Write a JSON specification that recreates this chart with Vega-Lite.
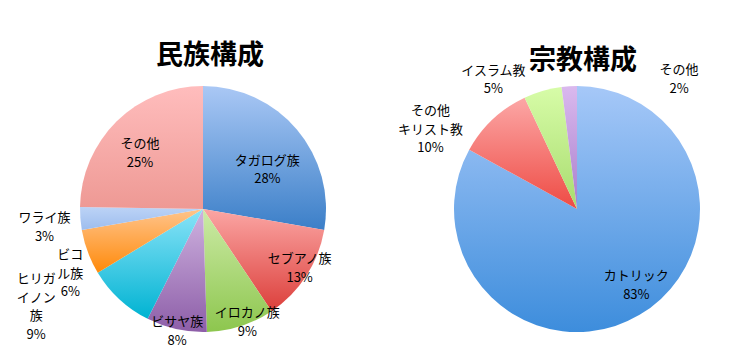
{
  "$schema": "https://vega.github.io/schema/vega-lite/v6.json",
  "autosize": {"type": "none"},
  "width": 731,
  "height": 304,
  "padding": {"left": 0, "top": 57, "right": 0, "bottom": 0},
  "background": "#ffffff",
  "config": {
    "view": {"stroke": null},
    "text": {"font": "Noto Sans CJK JP", "fontSize": 13, "color": "#000000", "lineBreak": "\n", "lineHeight": 18.5, "baseline": "middle", "align": "center"}
  },
  "resolve": {"scale": {"theta": "independent"}},
  "layer": [
    {
      "data": {"values": [
        {"name": "タガログ族", "value": 28, "rank": 1, "label": "タガログ族\n28%"},
        {"name": "セブアノ族", "value": 13, "rank": 2, "label": "セブアノ族\n13%"},
        {"name": "イロカノ族", "value": 9, "rank": 3, "label": "イロカノ族\n9%"},
        {"name": "ビサヤ族", "value": 8, "rank": 4, "label": "ビサヤ族\n8%"},
        {"name": "ヒリガイノン族", "value": 9, "rank": 5, "label": "ヒリガ\nイノン\n族\n9%"},
        {"name": "ビコル族", "value": 6, "rank": 6, "label": "ビコ\nル族\n6%"},
        {"name": "ワライ族", "value": 3, "rank": 7, "label": "ワライ族\n3%"},
        {"name": "その他", "value": 25, "rank": 8, "label": "その他\n25%"}
      ]},
      "encoding": {
        "x": {"datum": "民族構成", "type": "nominal", "axis": null, "scale": {"type": "point", "domain": ["民族構成", "宗教構成"], "padding": 0.47727, "align": 0.568627}},
        "theta": {"field": "value", "type": "quantitative", "stack": true},
        "order": {"field": "rank", "type": "quantitative"}
      },
      "layer": [
        {
          "mark": {"type": "arc", "outerRadius": 123},
          "encoding": {
            "color": {
              "condition": [
                {"test": "datum.name === 'タガログ族'", "value": {"gradient": "linear", "x1": 0, "y1": 0, "x2": 0, "y2": 1, "stops": [{"offset": 0, "color": "#aac8f5"}, {"offset": 1, "color": "#3b7fc8"}]}},
                {"test": "datum.name === 'セブアノ族'", "value": {"gradient": "linear", "x1": 0, "y1": 0, "x2": 0, "y2": 1, "stops": [{"offset": 0, "color": "#fba6a4"}, {"offset": 1, "color": "#dc3f3b"}]}},
                {"test": "datum.name === 'イロカノ族'", "value": {"gradient": "linear", "x1": 0, "y1": 0, "x2": 0, "y2": 1, "stops": [{"offset": 0, "color": "#cdeba7"}, {"offset": 1, "color": "#8dc64e"}]}},
                {"test": "datum.name === 'ビサヤ族'", "value": {"gradient": "linear", "x1": 0, "y1": 0, "x2": 0, "y2": 1, "stops": [{"offset": 0, "color": "#cfb3e0"}, {"offset": 1, "color": "#8d5ea8"}]}},
                {"test": "datum.name === 'ヒリガイノン族'", "value": {"gradient": "linear", "x1": 0, "y1": 0, "x2": 0, "y2": 1, "stops": [{"offset": 0, "color": "#8ae3f8"}, {"offset": 1, "color": "#00b3d2"}]}},
                {"test": "datum.name === 'ビコル族'", "value": {"gradient": "linear", "x1": 0, "y1": 0, "x2": 0, "y2": 1, "stops": [{"offset": 0, "color": "#ffc48c"}, {"offset": 1, "color": "#ff8a0a"}]}},
                {"test": "datum.name === 'ワライ族'", "value": {"gradient": "linear", "x1": 0, "y1": 0, "x2": 0, "y2": 1, "stops": [{"offset": 0, "color": "#bcd3f6"}, {"offset": 1, "color": "#9dbdee"}]}}
              ],
              "value": {"gradient": "linear", "x1": 0, "y1": 0, "x2": 0, "y2": 1, "stops": [{"offset": 0, "color": "#ffbdbd"}, {"offset": 1, "color": "#ee9994"}]}
            }
          }
        },
        {"mark": {"type": "text", "radius": 75, "dx": 7, "dy": 0}, "encoding": {"text": {"condition": {"test": "datum.name === 'タガログ族'", "field": "label"}, "value": ""}}},
        {"mark": {"type": "text", "radius": 114, "dx": 1, "dy": -12}, "encoding": {"text": {"condition": {"test": "datum.name === 'セブアノ族'", "field": "label"}, "value": ""}}},
        {"mark": {"type": "text", "radius": 122, "dx": 7, "dy": -12}, "encoding": {"text": {"condition": {"test": "datum.name === 'イロカノ族'", "field": "label"}, "value": ""}}},
        {"mark": {"type": "text", "radius": 124, "dx": 1, "dy": -8}, "encoding": {"text": {"condition": {"test": "datum.name === 'ビサヤ族'", "field": "label"}, "value": ""}}},
        {"mark": {"type": "text", "radius": 150, "dx": -65, "dy": -40}, "encoding": {"text": {"condition": {"test": "datum.name === 'ヒリガイノン族'", "field": "label"}, "value": ""}}},
        {"mark": {"type": "text", "radius": 147, "dx": 5, "dy": -5}, "encoding": {"text": {"condition": {"test": "datum.name === 'ビコル族'", "field": "label"}, "value": ""}}},
        {"mark": {"type": "text", "radius": 158, "dx": -1, "dy": -3}, "encoding": {"text": {"condition": {"test": "datum.name === 'ワライ族'", "field": "label"}, "value": ""}}},
        {"mark": {"type": "text", "radius": 84, "dx": -4, "dy": -5}, "encoding": {"text": {"condition": {"test": "datum.name === 'その他'", "field": "label"}, "value": ""}}}
      ]
    },
    {
      "data": {"values": [
        {"name": "カトリック", "value": 83, "rank": 1, "label": "カトリック\n83%"},
        {"name": "その他キリスト教", "value": 10, "rank": 2, "label": "その他\nキリスト教\n10%"},
        {"name": "イスラム教", "value": 5, "rank": 3, "label": "イスラム教\n5%"},
        {"name": "その他", "value": 2, "rank": 4, "label": "その他\n2%"}
      ]},
      "encoding": {
        "x": {"datum": "宗教構成", "type": "nominal", "axis": null, "scale": {"type": "point", "domain": ["民族構成", "宗教構成"], "padding": 0.47727, "align": 0.568627}},
        "theta": {"field": "value", "type": "quantitative", "stack": true},
        "order": {"field": "rank", "type": "quantitative"}
      },
      "layer": [
        {
          "mark": {"type": "arc", "outerRadius": 123},
          "encoding": {
            "color": {
              "condition": [
                {"test": "datum.name === 'カトリック'", "value": {"gradient": "linear", "x1": 0, "y1": 0, "x2": 0, "y2": 1, "stops": [{"offset": 0, "color": "#a6c8f8"}, {"offset": 1, "color": "#3d8ddc"}]}},
                {"test": "datum.name === 'その他キリスト教'", "value": {"gradient": "linear", "x1": 0, "y1": 0, "x2": 0, "y2": 1, "stops": [{"offset": 0, "color": "#fca7a6"}, {"offset": 1, "color": "#ee4b44"}]}},
                {"test": "datum.name === 'イスラム教'", "value": {"gradient": "linear", "x1": 0, "y1": 0, "x2": 0, "y2": 1, "stops": [{"offset": 0, "color": "#d7fca8"}, {"offset": 1, "color": "#a8dc6e"}]}}
              ],
              "value": {"gradient": "linear", "x1": 0, "y1": 0, "x2": 0, "y2": 1, "stops": [{"offset": 0, "color": "#dab9ee"}, {"offset": 1, "color": "#a97fcc"}]}
            }
          }
        },
        {"mark": {"type": "text", "radius": 93, "dx": 12, "dy": -13}, "encoding": {"text": {"condition": {"test": "datum.name === 'カトリック'", "field": "label"}, "value": ""}}},
        {"mark": {"type": "text", "radius": 160, "dx": -37, "dy": 19}, "encoding": {"text": {"condition": {"test": "datum.name === 'その他キリスト教'", "field": "label"}, "value": ""}}},
        {"mark": {"type": "text", "radius": 149, "dx": -42, "dy": 5}, "encoding": {"text": {"condition": {"test": "datum.name === 'イスラム教'", "field": "label"}, "value": ""}}},
        {"mark": {"type": "text", "radius": 126, "dx": 110, "dy": -13}, "encoding": {"text": {"condition": {"test": "datum.name === 'その他'", "field": "label"}, "value": ""}}}
      ]
    },
    {
      "data": {"values": [{"chart": "民族構成"}]},
      "mark": {"type": "text", "fontSize": 27, "fontWeight": "bold", "dx": 7, "dy": -153},
      "encoding": {
        "x": {"field": "chart", "type": "nominal", "axis": null, "scale": {"type": "point", "domain": ["民族構成", "宗教構成"], "padding": 0.47727, "align": 0.568627}},
        "text": {"field": "chart"}
      }
    },
    {
      "data": {"values": [{"chart": "宗教構成"}]},
      "mark": {"type": "text", "fontSize": 27, "fontWeight": "bold", "dx": 6, "dy": -148},
      "encoding": {
        "x": {"field": "chart", "type": "nominal", "axis": null, "scale": {"type": "point", "domain": ["民族構成", "宗教構成"], "padding": 0.47727, "align": 0.568627}},
        "text": {"field": "chart"}
      }
    }
  ]
}
